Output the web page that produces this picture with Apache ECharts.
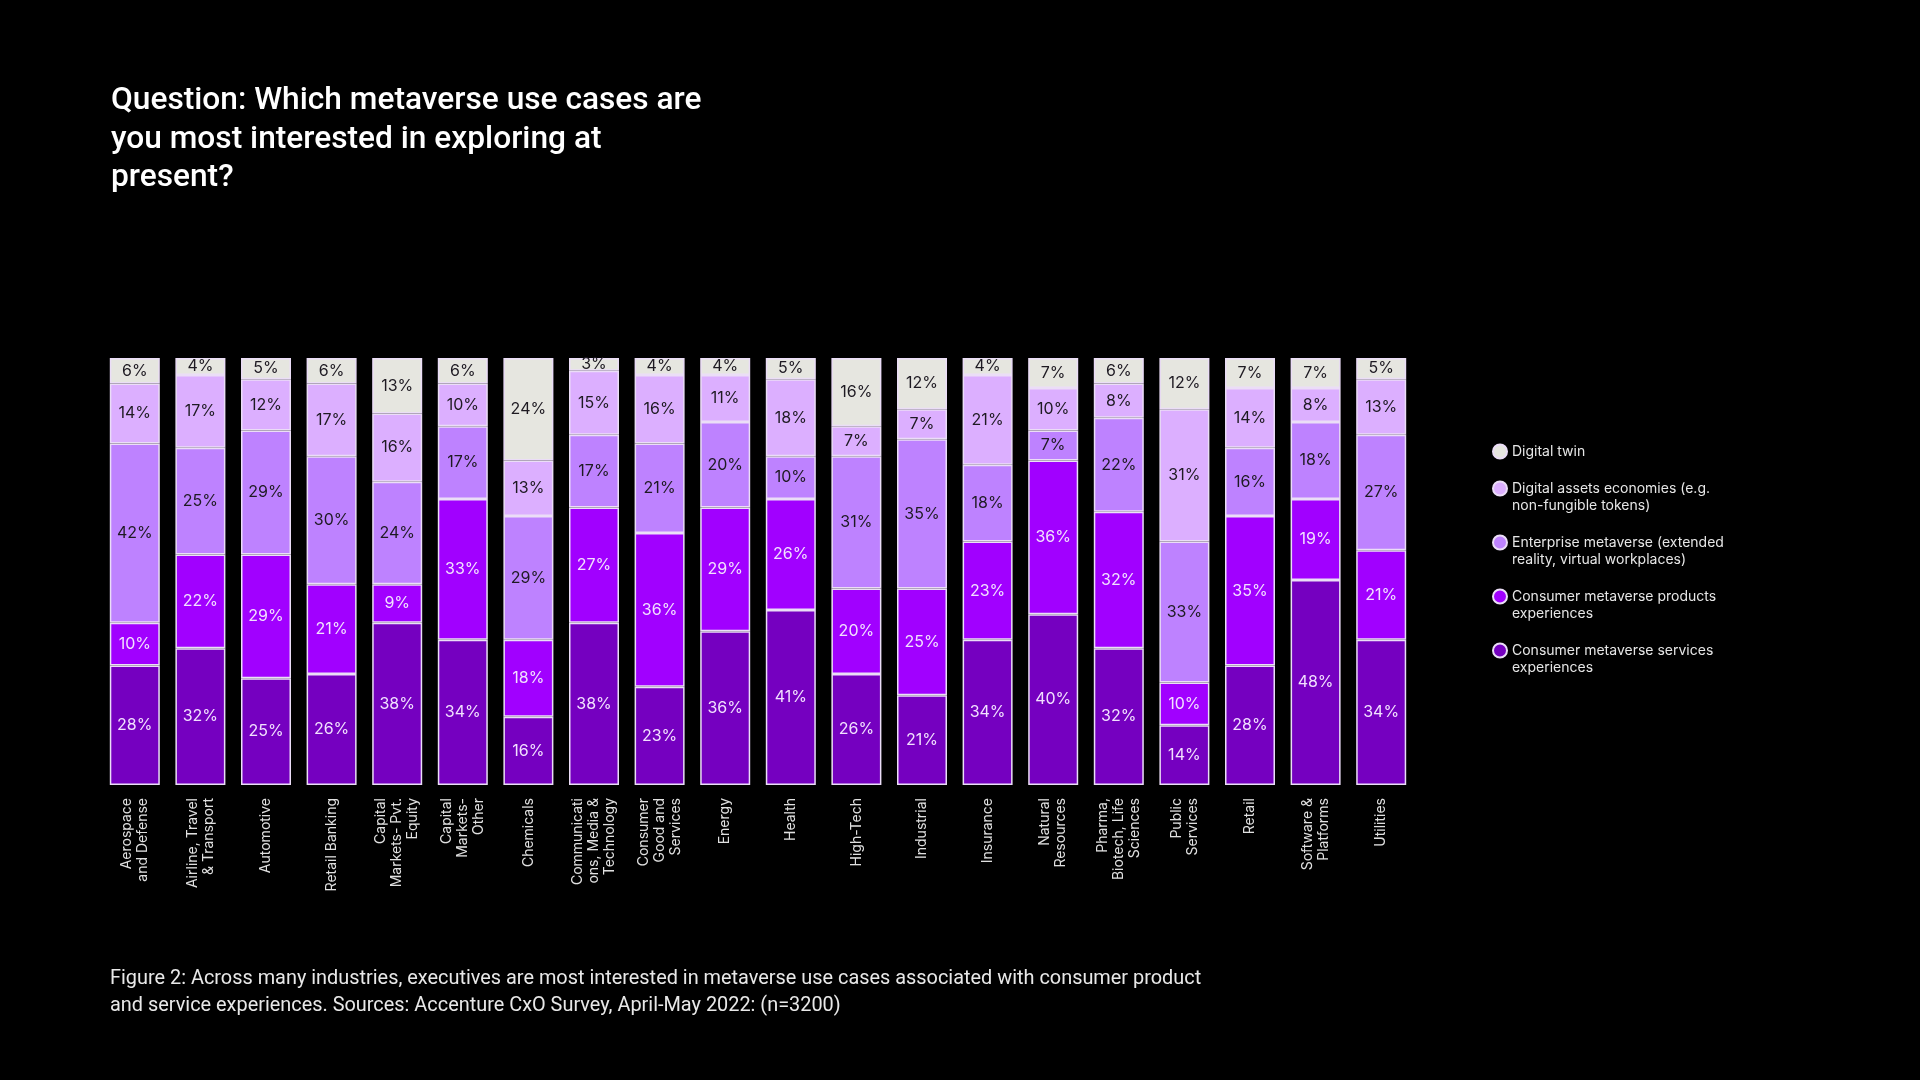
<!DOCTYPE html>
<html>
<head>
<meta charset="utf-8">
<script src="https://cdn.jsdelivr.net/npm/echarts@6/dist/echarts.min.js"></script>
<style>
  html, body { margin: 0; padding: 0; background: #000; }
  #chart { width: 1920px; height: 1080px; }
</style>
</head>
<body>
<div id="chart"></div>
<script>
const categories = [
  "Aerospace\nand Defense", "Airline, Travel\n& Transport", "Automotive", "Retail Banking",
  "Capital\nMarkets- Pvt.\nEquity", "Capital\nMarkets-\nOther", "Chemicals",
  "Communicati\nons, Media &\nTechnology", "Consumer\nGood and\nServices", "Energy", "Health",
  "High-Tech", "Industrial", "Insurance", "Natural\nResources", "Pharma,\nBiotech, Life\nSciences",
  "Public\nServices", "Retail", "Software &\nPlatforms", "Utilities"
];
const seriesNames = [
  "Consumer metaverse services\nexperiences",
  "Consumer metaverse products\nexperiences",
  "Enterprise metaverse (extended\nreality, virtual workplaces)",
  "Digital assets economies (e.g.\nnon-fungible tokens)",
  "Digital twin"
];
const servicesValues   = [28,32,25,26,38,34,16,38,23,36,41,26,21,34,40,32,14,28,48,34];
const productsValues   = [10,22,29,21, 9,33,18,27,36,29,26,20,25,23,36,32,10,35,19,21];
const enterpriseValues = [42,25,29,30,24,17,29,17,21,20,10,31,35,18, 7,22,33,16,18,27];
const assetsValues     = [14,17,12,17,16,10,13,15,16,11,18, 7, 7,21,10, 8,31,14, 8,13];
const twinValues       = [ 6, 4, 5, 6,13, 6,24, 3, 4, 4, 5,16,12, 4, 7, 6,12, 7, 7, 5];
const titleText = "Question: Which metaverse use cases are\nyou most interested in exploring at\npresent?";
const footText = "Figure 2: Across many industries, executives are most interested in metaverse use cases associated with consumer product\nand service experiences. Sources: Accenture CxO Survey, April-May 2022: (n=3200)";

const allValues = [servicesValues, productsValues, enterpriseValues, assetsValues, twinValues];
const colors = ["#7500C0", "#A100FF", "#BE82FF", "#DCAFFF", "#E6E6E0"];
const labelColors = ["#F2E0FF", "#F2E0FF", "#1E1A22", "#1E1A22", "#1E1A22"];

const chart = echarts.init(document.getElementById('chart'));
const FONT = "Inter";

const series = allValues.map((vals, i) => ({
  name: seriesNames[i],
  type: 'bar',
  stack: 'total',
  barWidth: 50,
  data: vals,
  itemStyle: { color: colors[i], borderColor: '#EBDDF7', borderWidth: 1.5 },
  label: {
    show: true,
    position: 'inside',
    formatter: '{c}%',
    color: labelColors[i],
    fontFamily: FONT,
    fontSize: 16
  }
}));

chart.setOption({
  backgroundColor: '#000',
  animation: false,
  title: [
    {
      text: titleText,
      left: 106, top: 77,
      textStyle: { color: '#fff', fontFamily: 'Roboto', fontWeight: 500, fontSize: 31.7, lineHeight: 38.5 }
    },
    {
      text: footText,
      left: 105, top: 961,
      textStyle: { color: '#e8e8e8', fontFamily: 'Roboto', fontWeight: 400, fontSize: 19.9, lineHeight: 27 }
    }
  ],
  legend: {
    orient: 'vertical',
    left: 1492, top: 443,
    padding: 0,
    icon: 'circle',
    itemWidth: 14, itemHeight: 14,
    itemGap: 3,
    textStyle: { color: '#E6E6E6', fontFamily: FONT, fontSize: 14, lineHeight: 17 },
    formatter: name => (name.indexOf('\n') >= 0 ? '\n' + name : name),
    data: seriesNames.slice().reverse()
  },
  grid: { left: 102, right: 506, top: 358, bottom: 295, containLabel: false },
  xAxis: {
    type: 'category',
    data: categories,
    axisLine: { show: false },
    axisTick: { show: false },
    axisLabel: {
      rotate: 90, interval: 0, margin: 13,
      color: '#E0E0E0', fontFamily: FONT, fontSize: 14, lineHeight: 16
    }
  },
  yAxis: { type: 'value', min: 0, max: 100, show: false, splitLine: { show: false } },
  series: series
});
</script>
</body>
</html>
